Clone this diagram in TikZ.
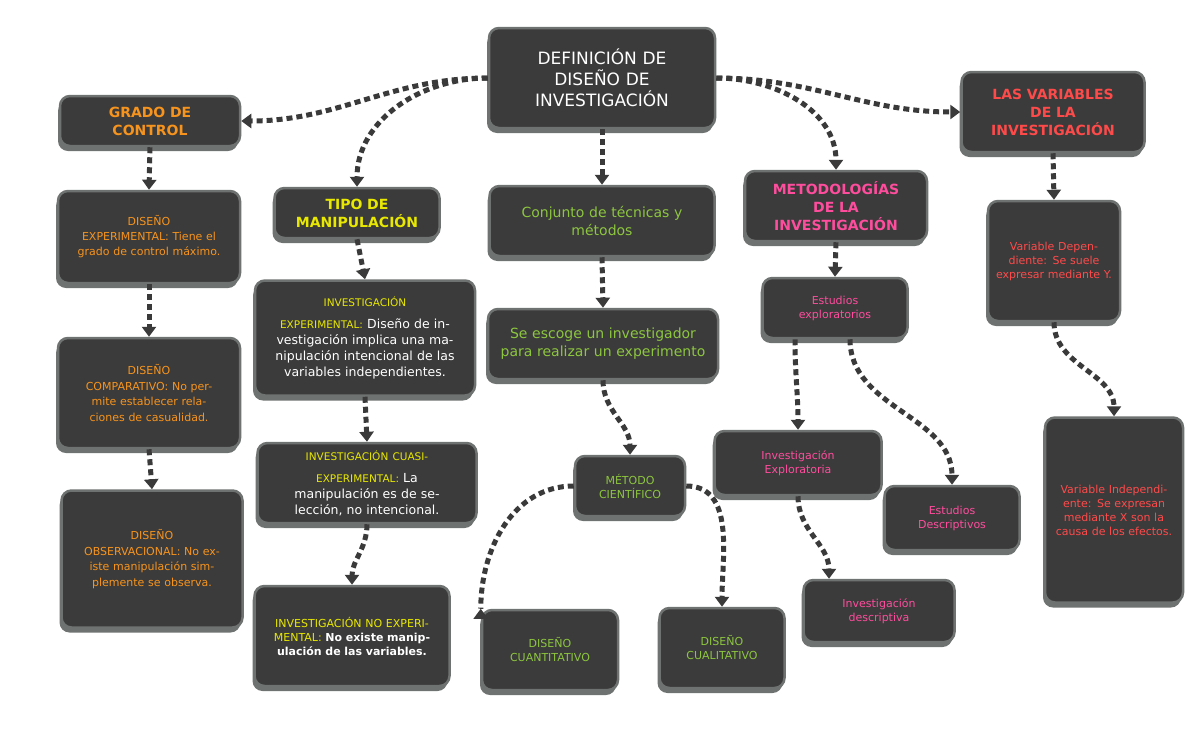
\documentclass[tikz,border=0pt]{standalone}
\usepackage{fontspec}
\setmainfont{DejaVu Sans}
\usetikzlibrary{arrows.meta,shadows}
\definecolor{bx}{HTML}{3B3B3B}
\definecolor{bd}{HTML}{6E7270}
\definecolor{org}{HTML}{F7941D}
\definecolor{ylw}{HTML}{E8E800}
\definecolor{grn}{HTML}{8DC63F}
\definecolor{pnk}{HTML}{FF4D9D}
\definecolor{rd}{HTML}{FF4A4A}
\definecolor{ar}{HTML}{3A3A3A}
\begin{document}
\begin{tikzpicture}[x=1pt,y=-1pt,
 box/.style={draw=bd,line width=2.5pt,fill=bx,rounded corners=10pt,align=center,inner sep=3pt,
   drop shadow={shadow xshift=-2pt,shadow yshift=-5pt,fill=bd,opacity=1}},
 con/.style={draw=ar,line width=5pt,dash pattern=on 6pt off 4pt,-{Triangle[length=10pt,width=14pt]}}]
\useasboundingbox (0,0) rectangle (1200,729);
\fill[white] (0,0) rectangle (1200,729);
\newcommand{\B}[6]{\node[box,minimum width=#3pt,minimum height=#4pt,text width=#3pt-12pt,font=#5] (#1) at (#2) {#6};}
\B{def}{602,78}{226}{100}{\fontsize{17}{21}\selectfont\color{white}}{DEFINICIÓN DE\\DISEÑO DE\\INVESTIGACIÓN}
\B{grado}{150,121}{180}{50}{\fontsize{14}{18}\selectfont\bfseries\color{org}}{GRADO DE\\CONTROL}
\B{tipo}{357,213}{165}{50}{\fontsize{14}{18}\selectfont\bfseries\color{ylw}}{TIPO DE\\MANIPULACIÓN}
\B{conj}{602,221}{225}{70}{\fontsize{14}{18}\selectfont\color{grn}}{Conjunto de técnicas y\\métodos}
\B{met}{836,206}{182}{70}{\fontsize{14}{18}\selectfont\bfseries\color{pnk}}{METODOLOGÍAS\\DE LA\\INVESTIGACIÓN}
\B{var}{1053,112}{183}{80}{\fontsize{14}{18}\selectfont\bfseries\color{rd}}{LAS VARIABLES\\DE LA\\INVESTIGACIÓN}
\B{dexp}{149,237}{182}{92}{\fontsize{11}{15}\selectfont\color{org}}{DISEÑO\\EXPERIMENTAL: {\color{org}Tiene el grado de control máximo.}}
\B{dcomp}{149,393}{182}{110}{\fontsize{11}{15.5}\selectfont\color{org}}{DISEÑO\\COMPARATIVO: No permite establecer relaciones de casualidad.}
\B{dobs}{152,559}{181}{137}{\fontsize{11}{15.5}\selectfont\color{org}}{DISEÑO\\OBSERVACIONAL: No existe manipulación simplemente se observa.}
\B{iexp}{365,338}{220}{115}{\fontsize{12.5}{16}\selectfont\color{white}}{{\fontsize{10.5}{13}\selectfont\color{ylw}INVESTIGACIÓN}\\[6pt]{\fontsize{10.5}{13}\selectfont\color{ylw}EXPERIMENTAL:} Diseño de investigación implica una manipulación intencional de las variables independientes.}
\B{cuasi}{367,483}{219}{80}{\fontsize{12.5}{16}\selectfont\color{white}}{{\fontsize{10.5}{13}\selectfont\color{ylw}INVESTIGACIÓN CUASI-}\\[6pt]{\fontsize{10.5}{13}\selectfont\color{ylw}EXPERIMENTAL:} La\\manipulación es de selección, no intencional.}
\B{noexp}{352,636}{195}{100}{\fontsize{11}{14}\selectfont\color{ylw}}{INVESTIGACIÓN NO EXPERIMENTAL: {\color{white}\bfseries No existe manipulación de las variables.}}
\B{esc}{603,344}{230}{70}{\fontsize{14}{18}\selectfont\color{grn}}{Se escoge un investigador para realizar un experimento}
\B{mc}{630,486}{110}{60}{\fontsize{11}{14}\selectfont\color{grn}}{MÉTODO\\CIENTÍFICO}
\B{cuant}{550,650}{136}{80}{\fontsize{11}{14}\selectfont\color{grn}}{DISEÑO\\CUANTITATIVO}
\B{cual}{722,648}{125}{80}{\fontsize{11}{14}\selectfont\color{grn}}{DISEÑO\\CUALITATIVO}
\B{eexp}{835,308}{145}{60}{\fontsize{11}{14}\selectfont\color{pnk}}{Estudios\\exploratorios}
\B{iexpl}{798,463}{167}{64}{\fontsize{11}{14}\selectfont\color{pnk}}{Investigación\\Exploratoria}
\B{edes}{952,518}{135}{64}{\fontsize{11}{14}\selectfont\color{pnk}}{Estudios\\Descriptivos}
\B{ides}{879,611}{151}{62}{\fontsize{11}{14}\selectfont\color{pnk}}{Investigación\\descriptiva}
\B{vdep}{1054,261}{132}{120}{\fontsize{11}{14}\selectfont\color{rd}}{Variable Dependiente: Se suele expresar mediante Y.}
\B{vind}{1114,510}{138}{185}{\fontsize{11}{14}\selectfont\color{rd}}{Variable Independiente: Se expresan mediante X son la causa de los efectos.}
% connectors
\draw[con] (def.west) to[out=180,in=0] (grado.east);
\draw[con] (def.west) to[out=180,in=90] (tipo.north);
\draw[con] (def.south) -- (conj.north);
\draw[con] (def.east) to[out=0,in=90] (met.north);
\draw[con] (def.east) to[out=0,in=180] (var.west);
\draw[con] (grado.south) -- (dexp.north);
\draw[con] (dexp.south) -- (dcomp.north);
\draw[con] (dcomp.south) -- (dobs.north);
\draw[con] (tipo.south) -- (iexp.north);
\draw[con] (iexp.south) -- (cuasi.north);
\draw[con] (cuasi.south) to[out=-90,in=90] (noexp.north);
\draw[con] (conj.south) -- (esc.north);
\draw[con] (esc.south) to[out=-90,in=90] (mc.north);
\draw[con] (mc.west) to[out=180,in=90] (cuant.north west |- cuant.north) ++(0,0);
\draw[con] (mc.east) to[out=0,in=90] (cual.north);
\draw[con] (met.south) -- (eexp.north);
\draw[con] ([xshift=-40pt]eexp.south) to[out=-90,in=90] (iexpl.north);
\draw[con] ([xshift=15pt]eexp.south) to[out=-90,in=90] (edes.north);
\draw[con] (iexpl.south) to[out=-90,in=90] ([xshift=-50pt]ides.north);
\draw[con] (var.south) -- (vdep.north);
\draw[con] (vdep.south) to[out=-90,in=90] (vind.north);
\end{tikzpicture}
\end{document}
